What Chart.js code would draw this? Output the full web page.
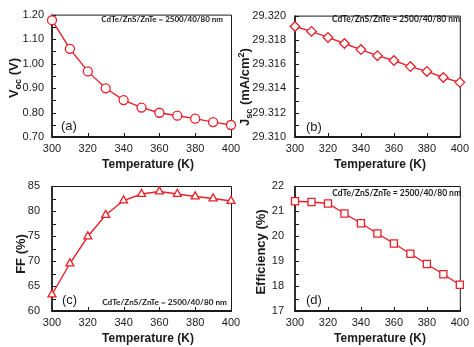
<!DOCTYPE html>
<html>
<head>
<meta charset="utf-8">
<script src="https://cdn.jsdelivr.net/npm/chart.js@4.4.0/dist/chart.umd.min.js"></script>
<style>
  html, body { margin: 0; padding: 0; background: #fff; }
  #wrap { position: relative; width: 474px; height: 347px; }
  #wrap canvas { position: absolute; left: 0; top: 0; }
</style>
</head>
<body>
<div id="wrap">
  <canvas id="chart-a" width="474" height="347"></canvas>
  <canvas id="chart-b" width="474" height="347"></canvas>
  <canvas id="chart-c" width="474" height="347"></canvas>
  <canvas id="chart-d" width="474" height="347"></canvas>
</div>
<script>
// ----- data -----
const temperature = [300, 310, 320, 330, 340, 350, 360, 370, 380, 390, 400];
const voc = [1.177, 1.060, 0.968, 0.899, 0.851, 0.820, 0.799, 0.787, 0.775, 0.761, 0.749];
const jsc = [29.3191, 29.3187, 29.3182, 29.3177, 29.3172, 29.3167, 29.3163, 29.3158, 29.3154, 29.3149, 29.3145];
const ff = [63.3, 69.5, 74.9, 79.2, 82.1, 83.4, 83.9, 83.4, 82.9, 82.5, 82.0];
const eff = [21.39, 21.36, 21.30, 20.90, 20.51, 20.10, 19.70, 19.29, 18.88, 18.47, 18.05];

// tick labels
const tempTicks = [300, 320, 340, 360, 380, 400];
const vocTicks = [0.70, 0.80, 0.90, 1.00, 1.10, 1.20];
const jscTicks = [29.310, 29.312, 29.314, 29.316, 29.318, 29.320];
const ffTicks = [60, 65, 70, 75, 80, 85];
const effTicks = [17, 18, 19, 20, 21, 22];

const noteText = 'CdTe/ZnS/ZnTe = 2500/40/80 nm';
const RED = '#e8202a';
const INK = '#1a1a1a';
const SANS = '"Liberation Sans", Arial, sans-serif';
const NOTE_FONT = 'Lato, "Open Sans", sans-serif';

// frame, inward ticks, titles and labels
const panelDecor = {
  id: 'panelDecor',
  beforeDatasetsDraw(chart, args, o) {
    const { ctx, chartArea: a, scales } = chart;
    ctx.save();
    ctx.strokeStyle = INK;

    // thin top / right, heavier left / bottom
    ctx.lineWidth = 1;
    ctx.beginPath();
    ctx.moveTo(a.left, a.top + 0.5); ctx.lineTo(a.right + 0.5, a.top + 0.5);
    ctx.lineTo(a.right + 0.5, a.bottom);
    ctx.stroke();
    ctx.lineWidth = 1.8;
    ctx.beginPath();
    ctx.moveTo(a.left, a.top); ctx.lineTo(a.left, a.bottom); ctx.lineTo(a.right + 1, a.bottom);
    ctx.stroke();

    // inward ticks
    ctx.lineWidth = 1;
    ctx.beginPath();
    tempTicks.forEach(v => {
      const px = Math.round(scales.x.getPixelForValue(v)) + 0.5;
      ctx.moveTo(px, a.bottom); ctx.lineTo(px, a.bottom - 4);
    });
    const yt = o.yTicks;
    const yVals = yt.slice();
    for (let i = 0; i < yt.length - 1; i++) yVals.push((yt[i] + yt[i + 1]) / 2);
    yVals.forEach(v => {
      const py = Math.round(scales.y.getPixelForValue(v)) + 0.5;
      ctx.moveTo(a.left, py); ctx.lineTo(a.left + 4, py);
    });
    ctx.stroke();

    ctx.fillStyle = INK;

    // y title with sub / superscripts
    ctx.save();
    ctx.translate(o.yTitlePos[0], o.yTitlePos[1]);
    ctx.rotate(-Math.PI / 2);
    ctx.textBaseline = 'alphabetic';
    ctx.textAlign = 'left';
    let total = 0;
    o.yTitle.forEach(p => { ctx.font = 'bold ' + p[1] + 'px ' + SANS; total += ctx.measureText(p[0]).width; });
    let x = -total / 2;
    o.yTitle.forEach(p => {
      ctx.font = 'bold ' + p[1] + 'px ' + SANS;
      ctx.fillText(p[0], x, 4.7 + (p[2] || 0));
      x += ctx.measureText(p[0]).width;
    });
    ctx.restore();

    // x title
    ctx.font = 'bold 12px ' + SANS;
    ctx.textAlign = 'center';
    ctx.textBaseline = 'middle';
    ctx.fillText('Temperature (K)', o.xTitlePos[0], o.xTitlePos[1]);

    // panel label
    ctx.font = '13px ' + SANS;
    ctx.textAlign = 'left';
    ctx.fillText(o.label, o.labelPos[0], o.labelPos[1]);

    // structure note, sized to the width it has in the figure
    ctx.font = 'bold 10px ' + NOTE_FONT;
    const size = 10 * o.noteWidth / ctx.measureText(noteText).width;
    ctx.font = 'bold ' + size.toFixed(2) + 'px ' + NOTE_FONT;
    ctx.textAlign = 'right';
    ctx.fillText(noteText, o.notePos[0], o.notePos[1]);
    ctx.restore();
  }
};

function makePanel(id, p) {
  const area = p.area; // [left, top, right, bottom]
  const yW = 58, xH = 36;
  new Chart(document.getElementById(id), {
    type: 'line',
    data: {
      datasets: [{
        data: temperature.map((t, i) => ({ x: t, y: p.values[i] })),
        borderColor: RED,
        borderWidth: 1.4,
        pointStyle: p.marker,
        pointRadius: p.radius,
        pointBorderWidth: 1.3,
        pointBorderColor: RED,
        pointBackgroundColor: '#ffffff',
        tension: 0,
        clip: false
      }]
    },
    options: {
      responsive: false,
      animation: false,
      devicePixelRatio: 1,
      layout: {
        padding: { left: area[0] - yW, top: area[1], right: 474 - area[2], bottom: 347 - area[3] - xH }
      },
      plugins: {
        legend: { display: false },
        tooltip: { enabled: false },
        panelDecor: p.decor
      },
      scales: {
        x: {
          type: 'linear', min: 300, max: 400,
          grid: { display: false, drawTicks: false },
          border: { display: false },
          afterBuildTicks: s => { s.ticks = tempTicks.map(v => ({ value: v })); },
          afterFit: s => { s.height = xH; },
          ticks: { padding: 5, color: INK, font: { family: SANS, size: 11 }, maxRotation: 0, autoSkip: false }
        },
        y: {
          min: p.yTicks[0], max: p.yTicks[p.yTicks.length - 1],
          grid: { display: false, drawTicks: false },
          border: { display: false },
          afterBuildTicks: s => { s.ticks = p.yTicks.map(v => ({ value: v })); },
          afterFit: s => { s.width = yW; },
          ticks: {
            padding: p.yPad, color: INK, font: { family: SANS, size: 11 }, autoSkip: false,
            callback: v => Number(v).toFixed(p.decimals)
          }
        }
      }
    },
    plugins: [panelDecor]
  });
}

makePanel('chart-a', {
  values: voc, yTicks: vocTicks, decimals: 2, marker: 'circle', radius: 4.5,
  area: [52, 13, 231, 137], yPad: 8,
  decor: {
    yTicks: vocTicks,
    yTitle: [['V', 13], ['oc', 9, 3], [' (V)', 13]], yTitlePos: [13, 78],
    xTitlePos: [148, 165], label: '(a)', labelPos: [61, 126], notePos: [223, 19], noteWidth: 122
  }
});

makePanel('chart-b', {
  values: jsc, yTicks: jscTicks, decimals: 3, marker: 'rectRot', radius: 4.8,
  area: [295, 13, 469, 137], yPad: 9,
  decor: {
    yTicks: jscTicks,
    yTitle: [['J', 13], ['sc', 9, 3], [' (mA/cm', 13], ['2', 9, -5], [')', 13]], yTitlePos: [244, 87],
    xTitlePos: [380, 165], label: '(b)', labelPos: [306, 127], notePos: [460, 19], noteWidth: 128
  }
});

makePanel('chart-c', {
  values: ff, yTicks: ffTicks, decimals: 0, marker: 'triangle', radius: 4.6,
  area: [52, 186, 231, 311], yPad: 12,
  decor: {
    yTicks: ffTicks,
    yTitle: [['FF (%)', 13]], yTitlePos: [20, 254],
    xTitlePos: [148, 339], label: '(c)', labelPos: [62, 300], notePos: [227, 302], noteWidth: 125
  }
});

makePanel('chart-d', {
  values: eff, yTicks: effTicks, decimals: 0, marker: 'rect', radius: 5,
  area: [295, 186, 469, 311], yPad: 11,
  decor: {
    yTicks: effTicks,
    yTitle: [['Efficiency (%)', 13]], yTitlePos: [260, 252],
    xTitlePos: [380, 339], label: '(d)', labelPos: [306, 300], notePos: [461, 193], noteWidth: 129
  }
});
</script>
</body>
</html>
